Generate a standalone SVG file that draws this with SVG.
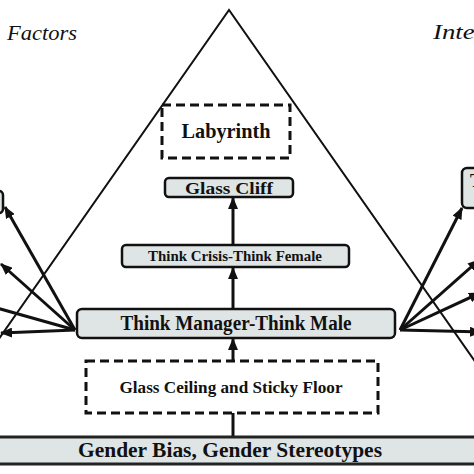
<svg xmlns="http://www.w3.org/2000/svg" width="474" height="474" viewBox="0 0 474 474">
<style>
.box{fill:#dfe4e4;stroke:#111;stroke-width:2.5}
.dash{fill:none;stroke:#111;stroke-width:3;stroke-dasharray:9 5}
.lbl{font-family:"Liberation Serif","Times New Roman",serif;font-weight:bold;fill:#111;text-anchor:middle}
.ttl{font-family:"Liberation Serif","Times New Roman",serif;font-style:italic;fill:#111;font-size:22px}
.arr{stroke:#111;stroke-width:3;fill:none;marker-end:url(#ah)}
.tri{stroke:#111;stroke-width:2;fill:none}
</style>
<defs>
<marker id="ah" markerUnits="userSpaceOnUse" markerWidth="12" markerHeight="10" refX="11" refY="5" orient="auto">
<path d="M0,0 L12,5 L0,10 z" fill="#111"/>
</marker>
</defs>
<rect width="474" height="474" fill="#fff"/>
<g id="triangle">
<polyline class="tri" points="-44,400 229,10 502,400"/>
</g>
<g id="titles">
<text class="ttl" x="7" y="40" textLength="70" lengthAdjust="spacingAndGlyphs">Factors</text>
<text class="ttl" x="433" y="39" textLength="52" lengthAdjust="spacingAndGlyphs">Inter</text>
</g>
<g id="connectors">
<line class="arr" x1="233" y1="244" x2="233" y2="198"/>
<line class="arr" x1="233" y1="309" x2="233" y2="268"/>
<line class="arr" x1="233" y1="361" x2="233" y2="339"/>
<line stroke="#111" stroke-width="3" x1="233" y1="413" x2="233" y2="436"/>
<line class="arr" x1="75" y1="330" x2="5" y2="207"/>
<line class="arr" x1="75" y1="330" x2="1" y2="264"/>
<line stroke="#111" stroke-width="3" x1="75" y1="330" x2="-10" y2="306"/>
<line class="arr" x1="75" y1="330" x2="1" y2="333"/>
<line class="arr" x1="400" y1="330" x2="462" y2="208"/>
<line class="arr" x1="400" y1="330" x2="479" y2="260"/>
<line class="arr" x1="400" y1="330" x2="480" y2="293"/>
<line class="arr" x1="400" y1="330" x2="481" y2="332"/>
</g>
<g id="left-box">
<rect class="box" x="-40" y="191" width="43" height="22" rx="4"/>
</g>
<g id="right-box">
<rect class="box" x="462" y="168" width="40" height="40" rx="5"/>
<text class="lbl" x="476" y="187" font-size="18">T</text>
</g>
<g id="labyrinth">
<rect class="dash" x="162" y="105" width="128" height="53"/>
<text class="lbl" x="226" y="138" font-size="21" textLength="89" lengthAdjust="spacingAndGlyphs">Labyrinth</text>
</g>
<g id="glass-cliff">
<rect class="box" x="165" y="178" width="128" height="19" rx="4"/>
<text class="lbl" x="229" y="194" font-size="17" textLength="88" lengthAdjust="spacingAndGlyphs">Glass Cliff</text>
</g>
<g id="think-crisis">
<rect class="box" x="122" y="245" width="227" height="22" rx="4"/>
<text class="lbl" x="235" y="261" font-size="15" textLength="174" lengthAdjust="spacingAndGlyphs">Think Crisis-Think Female</text>
</g>
<g id="think-manager">
<rect class="box" x="77" y="309" width="318" height="29" rx="5"/>
<text class="lbl" x="236" y="330" font-size="20" textLength="231" lengthAdjust="spacingAndGlyphs">Think Manager-Think Male</text>
</g>
<g id="glass-ceiling">
<rect class="dash" x="86" y="361" width="292" height="52"/>
<text class="lbl" x="231" y="393" font-size="17" textLength="223" lengthAdjust="spacingAndGlyphs">Glass Ceiling and Sticky Floor</text>
</g>
<g id="gender-bias">
<rect x="-5" y="436" width="484" height="29" fill="#dfe4e4"/>
<line x1="0" y1="437" x2="474" y2="437" stroke="#222" stroke-width="3"/>
<line x1="0" y1="464" x2="474" y2="464" stroke="#222" stroke-width="3"/>
<text class="lbl" x="230" y="457" font-size="21" textLength="304" lengthAdjust="spacingAndGlyphs">Gender Bias, Gender Stereotypes</text>
</g>
</svg>
